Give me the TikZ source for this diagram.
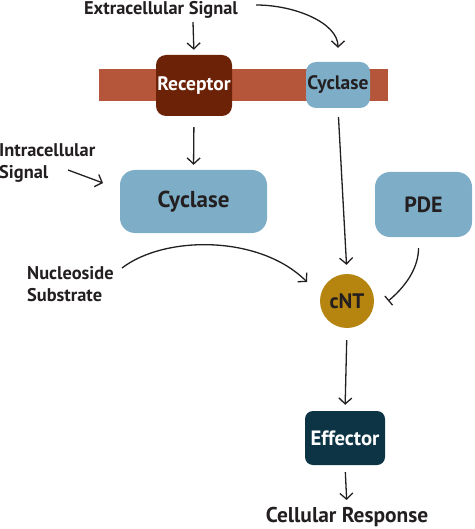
\documentclass[tikz,border=0pt]{standalone}
\usepackage{fontspec}
\setmainfont{PT Sans}
\usetikzlibrary{arrows.meta}
\definecolor{membrane}{HTML}{B5553A}
\definecolor{receptorc}{HTML}{6B2207}
\definecolor{cyclasec}{HTML}{7EADC7}
\definecolor{cntc}{HTML}{B5850F}
\definecolor{effectorc}{HTML}{0C3444}
\definecolor{ink}{HTML}{231F20}
\newcommand{\fsz}[1]{\bfseries\fontsize{#1}{22}\selectfont}
\begin{document}
\begin{tikzpicture}[x=1pt,y=-1pt,
    font=\fsz{18.4}, text=ink,
    arr/.style={line width=1.3pt, ink, -{Straight Barb[length=6pt,width=13pt]}},
    inhib/.style={line width=1.3pt, ink, -{Bar[width=12pt,line width=1.3pt]}},
    box/.style={rounded corners=12pt, inner sep=0pt, fill=cyclasec},
    label/.style={inner sep=0pt, align=left}]
    \useasboundingbox (0,0) rectangle (474,529);
    % membrane and the two proteins in it
    \node [fill=membrane, minimum width=289pt, minimum height=32pt, inner sep=0pt] (Membrane) at (243.5,85) {};
    \node [box, fill=receptorc, text=white, rounded corners=10pt, minimum width=76pt, minimum height=61pt, font=\fsz{19.5}] (Receptor) at (194,85.5) {Receptor};
    \node [box, rounded corners=10pt, minimum width=64pt, minimum height=46pt, font=\fsz{19.5}] (MemCyclase) at (338,85) {Cyclase};
    % cytosol
    \node [box, rounded corners=15pt, minimum width=147pt, minimum height=63pt, font=\fsz{23}] (Cyclase) at (193.5,201.5) {Cyclase};
    \node [box, rounded corners=15pt, minimum width=97pt, minimum height=65pt, font=\fsz{22}] (PDE) at (423.5,204.5) {PDE};
    \node [circle, fill=cntc, minimum size=54pt, inner sep=0pt, font=\fsz{21}] (CNT) at (347,301) {cNT};
    \node [box, fill=effectorc, text=white, rounded corners=8pt, minimum width=80pt, minimum height=54pt, font=\fsz{20.7}] (Effector) at (345,438) {Effector};
    % free labels
    \node [label] (ExtSignal) at (161,10) {Extracellular Signal};
    \node [label, anchor=west] (IntraSignal) at (-1,163) {Intracellular\\Signal};
    \node [label, anchor=west] (Nucleoside) at (27,284) {Nucleoside\\Substrate};
    \node [label, font=\fsz{21.4}] (Response) at (347,517) {Cellular Response};
    \coordinate (ExtStart)    at (193,22);
    \coordinate (IntraStart)  at (68,170);
    \coordinate (IntraEnd)    at (103,183);
    \coordinate (NucStart)    at (122,268);
    \coordinate (NucEnd)      at (307,282);
    % connectors
    \draw [arr, shorten >=5pt] (ExtStart) -- (Receptor.north);
    \draw [arr, shorten >=14pt] (ExtSignal.east) ++(18,-5) to[out=0,in=90] (MemCyclase.north);
    \draw [arr, shorten <=11pt, shorten >=5pt] (Receptor.south) -- (Cyclase.north);
    \draw [arr] (IntraStart) -- (IntraEnd);
    \draw [arr, shorten <=9pt, shorten >=9pt] (MemCyclase.south) -- (CNT.north);
    \draw [arr] (NucStart) .. controls (165,235) and (260,235) .. (NucEnd);
    \draw [inhib, shorten <=11pt] ([xshift=-5pt]PDE.south) to[out=-90,in=40] ([xshift=14pt]CNT.east);
    \draw [arr, shorten <=12pt, shorten >=6pt] (CNT.south) -- (Effector.north);
    \draw [arr, shorten <=7pt, shorten >=7pt] (Effector.south) -- (Response.north);
\end{tikzpicture}
\end{document}
